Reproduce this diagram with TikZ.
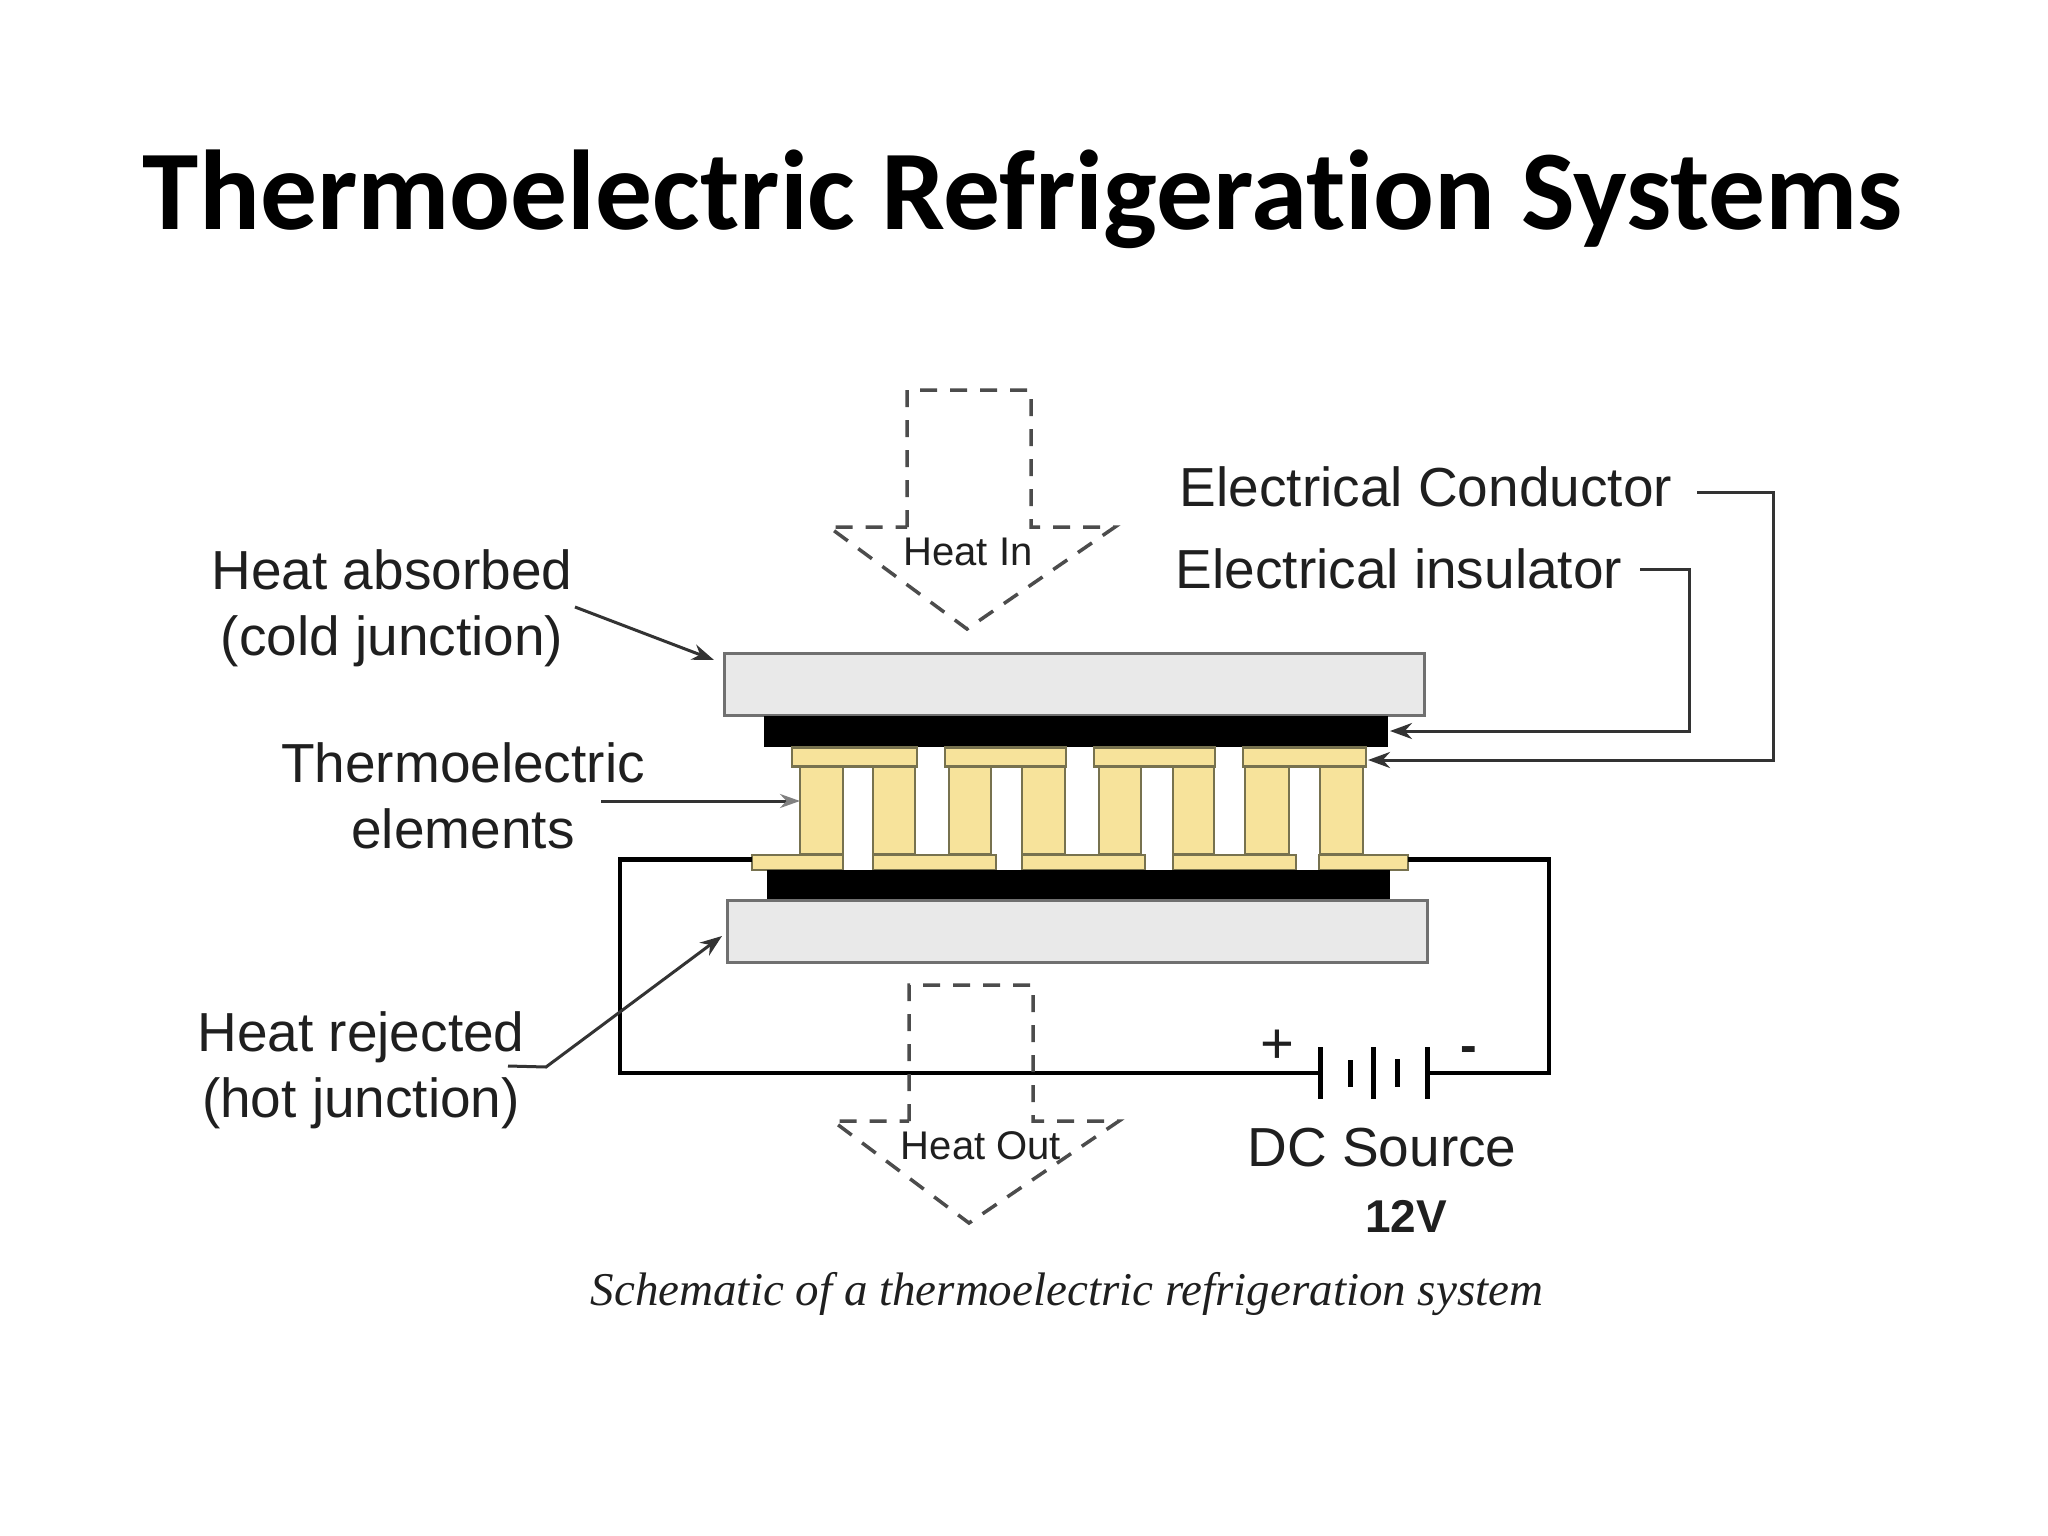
\documentclass[tikz,border=0pt]{standalone}
\usepackage{fontspec}
\setmainfont{Liberation Sans}
\newfontfamily\titlefont[Ligatures=NoCommon]{Carlito}
\newfontfamily\capfont{Liberation Serif}
\usetikzlibrary{calc,arrows.meta}

\definecolor{platefill}{HTML}{E9E9E9}
\definecolor{plateline}{HTML}{707070}
\definecolor{legfill}{HTML}{F7E39B}
\definecolor{legline}{HTML}{77724F}
\definecolor{labelink}{HTML}{1F1F1F}

\tikzset{
  plate/.style={draw=plateline,fill=platefill,line width=3pt,inner sep=0pt,outer sep=0pt},
  blackbar/.style={fill=black,inner sep=0pt,outer sep=0pt},
  thermo/.style={draw=legline,fill=legfill,line width=2.5pt,inner sep=0pt,outer sep=0pt},
  cell/.style={blackbar,minimum width=5pt},
  wire/.style={line width=4.5pt,black},
  leader/.style={line width=3pt,draw=black!80},
  heatflow/.style={line width=3.5pt,draw=black!70,dash pattern=on 17pt off 13pt},
  lbl/.style={text=labelink,align=center,inner sep=0pt,font=\fontsize{55}{66}\selectfont},
  smalllbl/.style={text=labelink,inner sep=0pt,font=\fontsize{40}{44}\selectfont}
}

\begin{document}
\begin{tikzpicture}[x=1pt,y=-1pt,>={Stealth[length=22pt,width=16pt]}]
    \useasboundingbox[fill=white] (0,0) rectangle (2048,1536);

    \node[inner sep=0pt,font=\titlefont\bfseries\fontsize{113.5}{120}\selectfont] (title) at (1023,199)
      {Thermoelectric Refrigeration Systems};

    % stack of the module
    \node[plate,minimum width=700pt,minimum height=62pt] (topplate) at (1074,684) {};
    \node[blackbar,minimum width=624pt,minimum height=31pt] (topbar) at (1076,731) {};
    \foreach \name/\xa/\xb in {a/800/843,b/873/915,c/949/991,d/1022/1065,e/1099/1141,f/1173/1214,g/1245/1289,h/1320/1363}
      {\node[thermo,minimum width={(\xb-\xa)*1pt},minimum height=88pt] (leg\name) at ({(\xa+\xb)/2},810) {};}
    \foreach \name/\xa/\xb in {1/792/917,2/945/1066,3/1094/1215,4/1243/1366}
      {\node[thermo,minimum width={(\xb-\xa)*1pt},minimum height=19pt] (upper\name) at ({(\xa+\xb)/2},757) {};}
    \foreach \name/\xa/\xb in {1/752/843,2/873/996,3/1022/1145,4/1173/1296,5/1319/1408}
      {\node[thermo,minimum width={(\xb-\xa)*1pt},minimum height=15pt] (lower\name) at ({(\xa+\xb)/2},862.5) {};}
    \node[blackbar,minimum width=623pt,minimum height=31pt] (botbar) at (1078.5,885.5) {};
    \node[plate,minimum width=700pt,minimum height=62pt] (botplate) at (1077,931) {};

    % battery
    \foreach \name/\x/\h in {a/1320/52,b/1350/27,c/1373/52,d/1397/28,e/1427/52}
      {\node[cell,minimum height=\h pt] (cell\name) at (\x,1073) {};}
    \coordinate (wireleft) at (620,960);
    \coordinate (wireright) at (1549,960);
    \draw[wire] ($(lower1.west)+(0,-3)$) -| (wireleft) |- (cella.west);
    \draw[wire] ($(lower5.east)+(0,-3)$) -| (wireright) |- (celle.east);
    \node[inner sep=0pt,text=labelink,font=\fontsize{58}{58}\selectfont] (plus) at (1277,1047) {+};
    \node[inner sep=0pt,text=labelink,font=\bfseries\fontsize{50}{50}\selectfont] (minus) at (1469,1055) {-};
    \node[lbl] (dcsource) at (1382,1148) {DC Source};
    \node[lbl,font=\bfseries\fontsize{46}{50}\selectfont] (volts) at (1406,1216) {12V};

    % heat arrows
    \draw[heatflow] (907,527) -- (907,390) -- (1031,390) -- (1031,527) -- (1115,527) -- (967,629) -- (829,527) -- cycle;
    \draw[heatflow] (909,1121) -- (909,985) -- (1033,985) -- (1033,1121) -- (1119,1121) -- (969,1223) -- (833,1121) -- cycle;
    \node[smalllbl] (heatin) at (968,552) {Heat In};
    \node[smalllbl] (heatout) at (981,1146) {Heat Out};

    % labels and their leaders
    \node[lbl] (condlbl) at (1426,487) {Electrical Conductor};
    \node[lbl] (insullbl) at (1399,569) {Electrical insulator};
    \node[lbl] (absorbed) at (392,608) {Heat absorbed\\(cold junction)};
    \node[lbl] (elements) at (463,796) {Thermoelectric\\elements};
    \node[lbl] (rejected) at (361,1070) {Heat rejected\\(hot junction)};
    \node[font=\capfont\itshape\fontsize{47}{50}\selectfont,text=labelink,inner sep=0pt] (caption) at (1067,1294)
      {Schematic of a thermoelectric refrigeration system};

    \coordinate (condstart) at (1697,492);
    \coordinate (condrail) at (1773,620);
    \coordinate (insulstart) at (1640,569);
    \coordinate (insulrail) at (1689,650);
    \coordinate (absorbstart) at (575,607);
    \coordinate (elemstart) at (601,801);
    \coordinate (rejectstart) at (508,1066);
    \coordinate (rejectbend) at (546,1067);

    \draw[leader,->,shorten >=2pt] (condstart) -| (condrail) |- ($(upper4.east)+(0,3)$);
    \draw[leader,->,shorten >=2pt] (insulstart) -| (insulrail) |- (topbar.east);
    \draw[leader,->] (absorbstart) -- ($(topplate.north west)+(-10,7)$);
    \draw[leader,->] (rejectstart) -- (rejectbend) -- ($(botplate.west)+(-5,5)$);
    \draw[leader,-{Stealth[open,length=20pt,width=14pt,black!50]}] (elemstart) -- ($(lega.west)+(0,-9)$);
  \end{tikzpicture}
\end{document}
